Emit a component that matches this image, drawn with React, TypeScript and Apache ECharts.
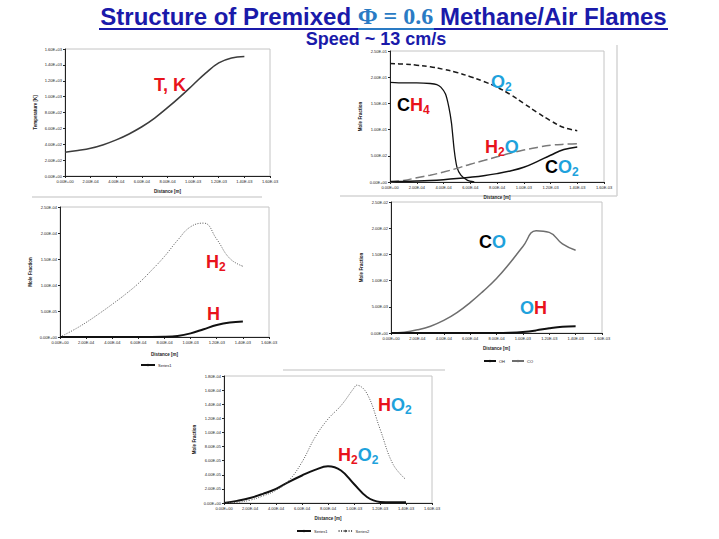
import React, { useEffect, useRef } from "react";
import * as echarts from "echarts";

// ---------- data ----------
const DIST = [0, 0.0001, 0.0002, 0.0003, 0.0004, 0.0005, 0.0006, 0.0007, 0.0008, 0.0009, 0.001, 0.0011, 0.0012, 0.0013, 0.0014];

const TEMPERATURE_K = [300, 322, 350, 395, 455, 530, 620, 730, 860, 1000, 1150, 1300, 1425, 1487, 1505];

const O2_FRAC = [0.226, 0.225, 0.223, 0.22, 0.215, 0.209, 0.201, 0.192, 0.181, 0.167, 0.15, 0.133, 0.117, 0.104, 0.098];
const CH4_X = [0, 0.0001, 0.0002, 0.0003, 0.00035, 0.00038, 0.000415, 0.00044, 0.00046, 0.00048, 0.0005, 0.00053, 0.00058, 0.00063];
const CH4_FRAC = [0.19, 0.189, 0.189, 0.188, 0.186, 0.181, 0.168, 0.143, 0.112, 0.061, 0.029, 0.013, 0.003, 0.0];
const H2O_FRAC = [0, 0.003, 0.008, 0.013, 0.019, 0.026, 0.034, 0.041, 0.048, 0.055, 0.061, 0.066, 0.07, 0.072, 0.073];
const CO2_FRAC = [0.001, 0.0013, 0.002, 0.003, 0.0045, 0.0065, 0.009, 0.012, 0.016, 0.021, 0.028, 0.039, 0.051, 0.062, 0.067];

const H2_FRAC = [0, 1.3e-5, 2.8e-5, 4.5e-5, 6.3e-5, 8.2e-5, 1.03e-4, 1.28e-4, 1.55e-4, 1.86e-4, 2.12e-4, 2.19e-4, 1.88e-4, 1.51e-4, 1.36e-4];
const H_FRAC = [0, 0, 0, 0, 0, 0, 0, 0, 3e-7, 2e-6, 7e-6, 1.5e-5, 2.3e-5, 2.8e-5, 3.0e-5];

const CO_FRAC = [0, 1.5e-4, 6e-4, 1.3e-3, 2.4e-3, 3.9e-3, 5.8e-3, 8.0e-3, 1.04e-2, 1.33e-2, 1.65e-2, 1.95e-2, 1.92e-2, 1.7e-2, 1.58e-2];
const OH_FRAC = [0, 0, 0, 0, 0, 0, 0, 0, 0, 5e-5, 2e-4, 5e-4, 9e-4, 1.2e-3, 1.3e-3];

const H2O2_FRAC = [0, 3e-6, 7e-6, 1.3e-5, 2e-5, 3e-5, 3.9e-5, 4.7e-5, 5.2e-5, 4.6e-5, 2.7e-5, 8.5e-6, 1.5e-6, 1e-6, 1e-6];
const HO2_X = [0, 0.0001, 0.0002, 0.0003, 0.0004, 0.0005, 0.0006, 0.0007, 0.0008, 0.0009, 0.001, 0.00102, 0.0011, 0.0012, 0.0013, 0.0014];
const HO2_FRAC = [0, 1e-6, 4e-6, 1e-5, 1.8e-5, 3.2e-5, 5.8e-5, 9.3e-5, 1.19e-4, 1.38e-4, 1.63e-4, 1.67e-4, 1.55e-4, 1.05e-4, 5.5e-5, 3.3e-5];

const Y_MAX = [1600, 0.25, 2.5e-4, 0.025, 1.8e-4];
const Y_STEP = [200, 0.05, 5e-5, 0.005, 2e-5];
const Y_NAMES = ["Temperature [K]", "Mole Fraction", "Mole Fraction", "Mole Fraction", "Mole Fraction"];
const X_MAX = 0.0016;
const X_STEP = 0.0002;
const X_NAME = "Distance [m]";

// ---------- helpers ----------
const FONT = "Liberation Sans";
const RED = "#e8121c";
const CYAN = "#1ea2dc";
const BLUE = "#1a1aaa";
const PHI = "#2a7bc4";

const fmt = (v: number) => {
  const s = Number(v).toExponential(2);
  const [m, e] = s.split("e");
  const sign = e[0] === "-" ? "-" : "+";
  const d = e.replace(/^[+-]/, "").padStart(2, "0");
  return `${m}E${sign}${d}`;
};

const GRIDS = [
  { left: 65, top: 49, width: 205, height: 127 },
  { left: 390, top: 51, width: 214, height: 131 },
  { left: 60, top: 207, width: 209, height: 130 },
  { left: 391, top: 202, width: 211, height: 131 },
  { left: 224, top: 376, width: 208, height: 127 },
];

const pairs = (xs: number[], ys: number[]) => xs.map((x, i) => [x, ys[i]]);

const line = (name: string, xs: number[], ys: number[], idx: number, color: string, width: number, type: any = "solid", smooth = 0.35) => ({
  type: "line",
  name,
  xAxisIndex: idx,
  yAxisIndex: idx,
  data: pairs(xs, ys),
  symbol: "none",
  showSymbol: false,
  smooth,
  clip: true,
  lineStyle: { color, width, type },
  itemStyle: { color },
});

const label = (parts: { t: string; c: string; sub?: boolean }[], x: number, y: number) => {
  const rich: any = {};
  let text = "";
  parts.forEach((p, i) => {
    const key = "s" + i;
    rich[key] = p.sub
      ? { fontSize: 12, fontFamily: FONT, fontWeight: "bold", fill: p.c, lineHeight: 10, verticalAlign: "bottom" }
      : { fontSize: 18, fontFamily: FONT, fontWeight: "bold", fill: p.c, lineHeight: 22 };
    text += `{${key}|${p.t}}`;
  });
  return {
    type: "text",
    x,
    y: y - 4,
    z: 100,
    style: { text, rich, align: "left", verticalAlign: "top", textAlign: "left", textVerticalAlign: "top" },
  };
};

const greyLine = (x1: number, y1: number, x2: number, y2: number) => ({
  type: "line",
  shape: { x1, y1, x2, y2 },
  style: { stroke: "#d4d4d4", lineWidth: 1.5 },
});

export default function App() {
  const ref = useRef<HTMLDivElement>(null);
  useEffect(() => {
    const chart = echarts.init(ref.current!, undefined, { renderer: "svg" });
    const axisLabel = { fontSize: 4, fontFamily: FONT, color: "#222", margin: 3 };
    const option: any = {
      animation: false,
      backgroundColor: "#ffffff",
      grid: GRIDS.map((g) => ({ ...g, show: true, borderColor: "#c4c4c4", borderWidth: 1, containLabel: false })),
      xAxis: GRIDS.map((_, i) => ({
        type: "value",
        gridIndex: i,
        min: 0,
        max: X_MAX,
        interval: X_STEP,
        name: X_NAME,
        nameLocation: "middle",
        nameGap: i === 2 ? 15 : 13,
        nameTextStyle: { fontSize: 4.5, fontFamily: FONT, fontWeight: "bold", color: "#222" },
        axisLine: { show: true, lineStyle: { color: "#222", width: 1 } },
        axisTick: { show: true, length: 2, lineStyle: { color: "#222" } },
        splitLine: { show: false },
        axisLabel: { ...axisLabel, formatter: fmt },
      })),
      yAxis: GRIDS.map((_, i) => ({
        type: "value",
        gridIndex: i,
        min: 0,
        max: Y_MAX[i],
        interval: Y_STEP[i],
        name: Y_NAMES[i],
        nameLocation: "middle",
        nameGap: 27,
        nameTextStyle: { fontSize: 4.5, fontFamily: FONT, fontWeight: "bold", color: "#222" },
        axisLine: { show: true, lineStyle: { color: "#222", width: 1 } },
        axisTick: { show: true, length: 2, lineStyle: { color: "#222" } },
        splitLine: { show: false },
        axisLabel: { ...axisLabel, formatter: fmt },
      })),
      legend: [
        {
          data: ["Series1"],
          left: 135,
          top: 358,
          itemWidth: 14,
          itemHeight: 3,
          itemGap: 6,
          textStyle: { fontSize: 4, fontFamily: FONT, color: "#222", padding: [0, 0, 0, -2] },
        },
        {
          data: ["OH", "CO"],
          left: 478,
          top: 354,
          itemWidth: 12,
          itemHeight: 3,
          itemGap: 6,
          textStyle: { fontSize: 4, fontFamily: FONT, color: "#222", padding: [0, 0, 0, -2] },
        },
        {
          data: ["Series1", "Series2"],
          left: 291,
          top: 524,
          itemWidth: 14,
          itemHeight: 3,
          itemGap: 10,
          textStyle: { fontSize: 4, fontFamily: FONT, color: "#222", padding: [0, 0, 0, -2] },
        },
      ],
      series: [
        line("Temperature", DIST, TEMPERATURE_K, 0, "#3c3c3c", 1.6, "solid", 0.4),
        line("O2", DIST, O2_FRAC, 1, "#1a1a1a", 1.5, [5, 3], 0.4),
        line("CH4", CH4_X, CH4_FRAC, 1, "#111", 1.3, "solid", 0.2),
        line("H2O", DIST, H2O_FRAC, 1, "#7a7a7a", 1.5, [9, 4], 0.4),
        line("CO2", DIST, CO2_FRAC, 1, "#111", 1.5, "solid", 0.4),
        line("H2", DIST, H2_FRAC, 2, "#555", 1, [1, 1.5], 0.45),
        line("Series1", DIST, H_FRAC, 2, "#111", 2, "solid", 0.4),
        line("CO", DIST, CO_FRAC, 3, "#6e6e6e", 1.5, "solid", 0.45),
        line("OH", DIST, OH_FRAC, 3, "#111", 2, "solid", 0.4),
        line("Series1", DIST, H2O2_FRAC, 4, "#111", 2, "solid", 0.4),
        line("Series2", HO2_X, HO2_FRAC, 4, "#555", 1, [1, 1.5], 0.4),
      ],
      graphic: [
        greyLine(32, 197, 262, 197),
        greyLine(340, 196, 617, 196),
        greyLine(617, 45, 617, 196),
        greyLine(283, 370, 445, 370),
        {
          type: "text",
          x: 383.5,
          y: 30,
          z: 100,
          style: {
            text: "{a|Structure of Premixed }{b|Φ = 0.6}{a| Methane/Air Flames}",
            align: "center",
            verticalAlign: "bottom",
            textAlign: "center",
            textVerticalAlign: "bottom",
            rich: {
              a: { fontSize: 24, fontFamily: FONT, fontWeight: "bold", fill: BLUE, lineHeight: 28 },
              b: { fontSize: 24, fontFamily: "Liberation Serif", fontWeight: "bold", fill: PHI, lineHeight: 28 },
            },
          },
        },
        { type: "line", z: 100, shape: { x1: 99, y1: 29, x2: 668, y2: 29 }, style: { stroke: BLUE, lineWidth: 2 } },
        { type: "line", z: 101, shape: { x1: 358, y1: 29, x2: 434, y2: 29 }, style: { stroke: PHI, lineWidth: 2 } },
        {
          type: "text",
          x: 376,
          y: 48,
          z: 100,
          style: {
            text: "Speed ~ 13 cm/s",
            fill: BLUE,
            fontSize: 18,
            fontFamily: FONT,
            fontWeight: "bold",
            align: "center",
            verticalAlign: "bottom",
            textAlign: "center",
            textVerticalAlign: "bottom",
          },
        },
        label([{ t: "T, K", c: RED }], 154, 78),
        label([{ t: "O", c: CYAN }, { t: "2", c: CYAN, sub: true }], 491, 75),
        label([{ t: "C", c: "#000" }, { t: "H", c: RED }, { t: "4", c: RED, sub: true }], 397, 98),
        label([{ t: "H", c: RED }, { t: "2", c: RED, sub: true }, { t: "O", c: CYAN }], 485, 140),
        label([{ t: "C", c: "#000" }, { t: "O", c: CYAN }, { t: "2", c: CYAN, sub: true }], 545, 160),
        label([{ t: "H", c: RED }, { t: "2", c: RED, sub: true }], 206, 255),
        label([{ t: "H", c: RED }], 207, 307),
        label([{ t: "C", c: "#000" }, { t: "O", c: CYAN }], 479, 235),
        label([{ t: "O", c: CYAN }, { t: "H", c: RED }], 520, 301),
        label([{ t: "H", c: RED }, { t: "O", c: CYAN }, { t: "2", c: CYAN, sub: true }], 378, 398),
        label([{ t: "H", c: RED }, { t: "2", c: RED, sub: true }, { t: "O", c: CYAN }, { t: "2", c: CYAN, sub: true }], 338, 448),
      ],
    };
    chart.setOption(option);
    return () => chart.dispose();
  }, []);
  return (
    <div
      ref={ref}
      style={{ position: "fixed", left: 0, top: 0, width: 719, height: 539, background: "#fff" }}
    />
  );
}
